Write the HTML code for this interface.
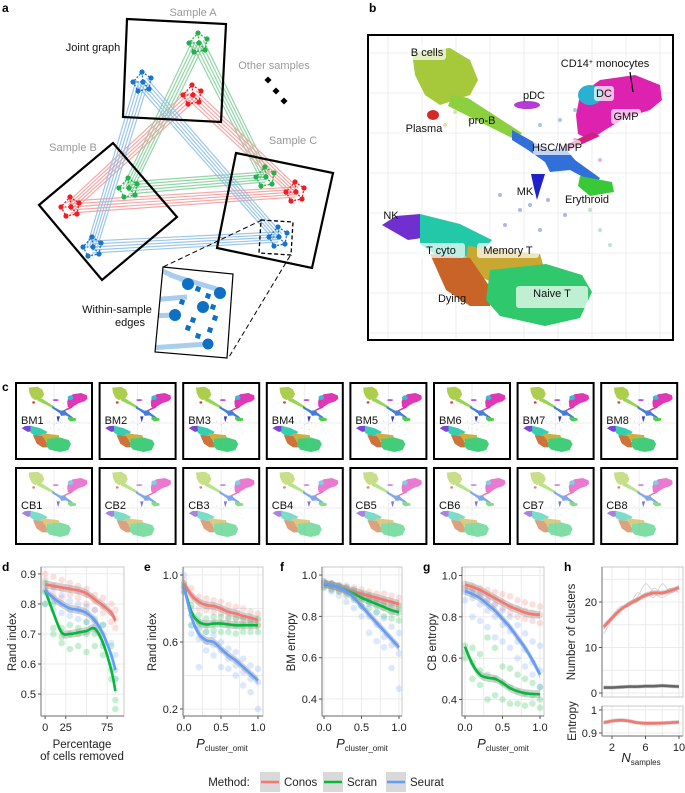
<!DOCTYPE html>
<html><head><meta charset="utf-8">
<style>
html,body{margin:0;padding:0;background:#fff;}
svg{display:block;font-family:"Liberation Sans",Arial,sans-serif;}
</style></head>
<body>
<svg id="fig" width="685" height="793" viewBox="0 0 685 793" xmlns="http://www.w3.org/2000/svg">
<defs>
<g id="umap">
  <g opacity="0.55" fill="none">
    <circle cx="470" cy="120" r="2" fill="#b5d46a"/><circle cx="455" cy="112" r="2" fill="#b5d46a"/><circle cx="445" cy="125" r="2" fill="#b5d46a"/>
    <circle cx="560" cy="120" r="2" fill="#5aa0d8"/><circle cx="575" cy="110" r="2" fill="#5aa0d8"/><circle cx="548" cy="200" r="2" fill="#6080e0"/>
    <circle cx="520" cy="210" r="2" fill="#6080e0"/><circle cx="505" cy="225" r="2" fill="#6080e0"/><circle cx="540" cy="230" r="2" fill="#6080e0"/>
    <circle cx="565" cy="215" r="2" fill="#6080e0"/><circle cx="590" cy="210" r="2" fill="#7ad89a"/><circle cx="600" cy="230" r="2" fill="#7ad89a"/>
    <circle cx="500" cy="195" r="2" fill="#6080e0"/><circle cx="530" cy="205" r="2" fill="#6080e0"/><circle cx="610" cy="245" r="2" fill="#7ad89a"/>
    <circle cx="575" cy="140" r="2" fill="#e070c0"/><circle cx="540" cy="125" r="2" fill="#5aa0d8"/><circle cx="600" cy="160" r="2" fill="#e070c0"/>
  </g>
  <polygon points="412,52 450,48 470,60 478,80 470,95 455,100 440,105 425,95 415,75" fill="#a5c93a"/>
  <polygon points="452,95 468,98 522,133 516,140 448,106" fill="#8cd040"/>
  <ellipse cx="433" cy="115" rx="6" ry="5" fill="#d62828"/>
  <ellipse cx="527" cy="105" rx="13" ry="4" fill="#b63ad6"/>
  <polygon points="580,95 600,80 635,75 660,85 662,100 650,110 625,118 605,130 590,140 578,134 576,115" fill="#dd22b0"/>
  <polygon points="592,132 600,136 565,152 560,148" fill="#d02080"/>
  <ellipse cx="590" cy="95" rx="12" ry="10" fill="#2ab0d0"/>
  <polygon points="512,130 530,140 548,150 565,148 575,160 600,178 596,184 570,170 550,172 545,162 528,150 512,140" fill="#3070d8"/>
  <polygon points="580,176 612,182 614,192 590,196 578,186" fill="#38c838"/>
  <polygon points="531,174 545,174 540,190 537,200 534,188" fill="#2020c8"/>
  <polygon points="382,225 396,216 420,214 422,238 408,240" fill="#7030d0"/>
  <polygon points="420,214 460,224 492,240 478,256 440,258 420,244" fill="#22c8a8"/>
  <polygon points="468,246 540,254 546,275 492,282 464,270" fill="#c8a830"/>
  <polygon points="430,254 470,258 492,290 490,306 470,306 446,290" fill="#c86428"/>
  <polygon points="490,270 546,264 582,275 592,292 580,318 545,326 500,316 486,300" fill="#2fc86c"/>
</g>
</defs>
</svg>
<script>
// ---------------- chart data ----------------
const dCurveX=[0,10,20,30,40,50,60,70,80,85];
const dConos=[0.865,0.86,0.855,0.85,0.845,0.835,0.815,0.795,0.77,0.745];
const dScran=[0.845,0.77,0.705,0.70,0.705,0.71,0.718,0.67,0.58,0.51];
const dSeurat=[0.845,0.82,0.80,0.785,0.78,0.77,0.745,0.70,0.63,0.58];
const dConosPts=[[0.90,0.88,0.85],[0.89,0.86,0.83],[0.88,0.85,0.82],[0.87,0.85,0.83],[0.86,0.84,0.82],[0.85,0.83,0.80],[0.83,0.81,0.78],[0.82,0.79,0.77],[0.80,0.77,0.74],[0.78,0.75,0.72]];
const dScranPts=[[0.87,0.84,0.80],[0.80,0.72,0.70],[0.72,0.69,0.67],[0.73,0.70,0.65],[0.72,0.70,0.66],[0.74,0.70,0.64],[0.75,0.70,0.66],[0.73,0.66,0.63],[0.66,0.58,0.55],[0.55,0.48,0.45]];
const dSeuratPts=[[0.86,0.84,0.80],[0.85,0.81,0.78],[0.83,0.80,0.77],[0.81,0.78,0.76],[0.80,0.78,0.75],[0.79,0.77,0.74],[0.78,0.74,0.72],[0.73,0.70,0.67],[0.67,0.63,0.60],[0.63,0.58,0.55]];
const dXTicks=[0,25,75];
const dYTicks=[0.5,0.6,0.7,0.8,0.9];

const pX=[0,0.1,0.2,0.3,0.4,0.5,0.6,0.7,0.8,0.9,1.0];
const eConos=[0.95,0.88,0.84,0.82,0.815,0.80,0.78,0.77,0.755,0.745,0.73];
const eScran=[0.93,0.78,0.72,0.705,0.71,0.71,0.705,0.70,0.70,0.70,0.70];
const eSeurat=[0.93,0.75,0.65,0.61,0.60,0.56,0.52,0.49,0.45,0.41,0.37];
const eConosPts=[[0.97,0.95,0.93],[0.92,0.88,0.85],[0.87,0.84,0.80],[0.86,0.82,0.79],[0.85,0.81,0.78],[0.84,0.80,0.77],[0.82,0.78,0.75],[0.81,0.77,0.74],[0.80,0.75,0.72],[0.78,0.74,0.71],[0.77,0.73,0.70]];
const eScranPts=[[0.95,0.93,0.90],[0.82,0.76,0.70],[0.76,0.72,0.68],[0.74,0.70,0.66],[0.75,0.71,0.67],[0.75,0.71,0.66],[0.74,0.70,0.66],[0.74,0.70,0.65],[0.74,0.70,0.66],[0.73,0.70,0.66],[0.74,0.70,0.66]];
const eSeuratPts=[[1.0,0.93,0.90],[0.80,0.70,0.65],[0.70,0.62,0.45],[0.66,0.60,0.55],[0.64,0.58,0.52],[0.60,0.55,0.45],[0.56,0.50,0.44],[0.54,0.46,0.40],[0.50,0.42,0.34],[0.46,0.38,0.30],[0.44,0.36,0.20]];
const eYTicks=[0.2,0.6,1.0];

const fConos=[0.96,0.95,0.94,0.93,0.92,0.91,0.90,0.89,0.88,0.87,0.86];
const fScran=[0.955,0.95,0.94,0.925,0.91,0.89,0.875,0.86,0.845,0.83,0.82];
const fSeurat=[0.96,0.95,0.94,0.92,0.89,0.85,0.81,0.77,0.73,0.69,0.65];
const fConosPts=[[0.97,0.96,0.95],[0.96,0.95,0.93],[0.95,0.94,0.92],[0.95,0.93,0.91],[0.94,0.92,0.90],[0.93,0.91,0.89],[0.92,0.90,0.88],[0.91,0.89,0.87],[0.91,0.88,0.86],[0.90,0.87,0.85],[0.89,0.86,0.84]];
const fScranPts=[[0.96,0.95,0.94],[0.96,0.94,0.93],[0.95,0.93,0.92],[0.94,0.92,0.90],[0.93,0.91,0.88],[0.91,0.88,0.85],[0.90,0.87,0.84],[0.88,0.85,0.82],[0.87,0.84,0.80],[0.86,0.82,0.79],[0.85,0.82,0.78]];
const fSeuratPts=[[0.97,0.96,0.94],[0.96,0.95,0.92],[0.95,0.93,0.90],[0.94,0.92,0.87],[0.92,0.89,0.84],[0.90,0.85,0.80],[0.86,0.80,0.72],[0.82,0.76,0.68],[0.79,0.70,0.65],[0.75,0.66,0.55],[0.72,0.62,0.45]];
const entYTicks=[0.4,0.6,0.8,1.0];

const gConos=[0.955,0.945,0.93,0.91,0.89,0.87,0.85,0.835,0.82,0.812,0.81];
const gScran=[0.655,0.57,0.52,0.505,0.50,0.48,0.455,0.44,0.43,0.427,0.425];
const gSeurat=[0.925,0.91,0.89,0.86,0.83,0.79,0.75,0.70,0.65,0.59,0.52];
const gConosPts=[[0.96,0.95,0.93],[0.95,0.94,0.91],[0.94,0.93,0.90],[0.93,0.91,0.88],[0.92,0.89,0.86],[0.91,0.87,0.84],[0.90,0.85,0.82],[0.88,0.84,0.80],[0.87,0.83,0.79],[0.86,0.82,0.78],[0.85,0.81,0.77]];
const gScranPts=[[0.66,0.63,0.60],[0.65,0.58,0.50],[0.62,0.54,0.47],[0.70,0.52,0.40],[0.65,0.50,0.42],[0.56,0.48,0.40],[0.55,0.46,0.38],[0.52,0.44,0.38],[0.50,0.43,0.37],[0.48,0.42,0.38],[0.46,0.40,0.36]];
const gSeuratPts=[[0.94,0.92,0.88],[0.93,0.89,0.80],[0.91,0.86,0.78],[0.88,0.83,0.75],[0.86,0.80,0.70],[0.83,0.76,0.68],[0.80,0.73,0.65],[0.76,0.68,0.60],[0.72,0.64,0.56],[0.68,0.58,0.52],[0.66,0.54,0.46]];
const pXTicks=[0.0,0.5,1.0];

const hX=[1,2,3,4,5,6,7,8,9,10];
const hConos=[14.5,16.5,18.3,19.5,20.5,21.5,22,22,22.5,23.2];
const hGray=[1.2,1.2,1.3,1.4,1.4,1.5,1.5,1.6,1.5,1.4];
const hTrace1=[14,16,18,20,21,24,22,21,22,23];
const hTrace2=[15,17,19,19,22,21,23,22,23,22];
const hTrace3=[13,16,18,20,20,22,21,24,22,23];
const hEntropy=[0.945,0.952,0.955,0.952,0.945,0.942,0.942,0.943,0.945,0.947];
const hYTicks=[0,10,20];
const hEntTicks=[0.9,1];
const hXTicks=[2,6,10];

const methodNames=['Conos','Scran','Seurat'];
const methodColors=['#F8766D','#00BA38','#619CFF'];

// ---------------- helpers ----------------
const NS='http://www.w3.org/2000/svg';
const svg=document.getElementById('fig');
function el(tag,attrs,parent){const e=document.createElementNS(NS,tag);for(const k in attrs)e.setAttribute(k,attrs[k]);(parent||svg).appendChild(e);return e;}
function txt(s,x,y,size,anchor,parent,fill,weight){const t=el('text',{x:x,y:y,'font-size':size,'text-anchor':anchor||'start',fill:fill||'#222'},parent);if(weight)t.setAttribute('font-weight',weight);t.textContent=s;return t;}
function smoothPath(pts){let d='M'+pts[0][0]+','+pts[0][1];for(let i=0;i<pts.length-1;i++){const p0=pts[i-1]||pts[i],p1=pts[i],p2=pts[i+1],p3=pts[i+2]||p2;const c1=[p1[0]+(p2[0]-p0[0])/6,p1[1]+(p2[1]-p0[1])/6],c2=[p2[0]-(p3[0]-p1[0])/6,p2[1]-(p3[1]-p1[1])/6];d+=' C'+c1[0]+','+c1[1]+' '+c2[0]+','+c2[1]+' '+p2[0]+','+p2[1];}return d;}

// ---------------- panel a (diagram) ----------------
const ga=el('g',{});


txt('a',2,12,12,'start',ga,'#000','bold');
const clusters={A:{g:[198,43],r:[192,95],b:[142,82]},B:{g:[128,188],r:[70,207],b:[92,247]},C:{g:[265,177],r:[295,192],b:[278,237]}};
const cols={g:'#22b14c',r:'#ee1c24',b:'#1a75c8'};
const lineCols={g:'#7fcf98',r:'#f59a9a',b:'#8dbde6'};
const pairs=[['A','B'],['A','C'],['B','C']];
const edges=el('g',{},ga);


['g','r','b'].forEach(c=>{pairs.forEach(p=>{const a=clusters[p[0]][c],b=clusters[p[1]][c];const dx=b[0]-a[0],dy=b[1]-a[1],L=Math.hypot(dx,dy),nx=-dy/L,ny=dx/L;for(let k=-2;k<=2;k++){el('line',{x1:a[0]+nx*k*3,y1:a[1]+ny*k*3,x2:b[0]+nx*k*2.5,y2:b[1]+ny*k*2.5,stroke:lineCols[c],'stroke-width':1.2,opacity:0.85},edges);}});});
const offs=[[0,-10],[9,-4],[7,7],[-4,9],[-9,0],[1,0]];
function cluster(cx,cy,c,name){const g=el('g',{},ga);
 const pts=offs.map(o=>[cx+o[0],cy+o[1]]);
 el('polygon',{points:pts.slice(0,5).map(p=>p.join(',')).join(' '),fill:'none',stroke:cols[c],'stroke-width':1.3,'stroke-dasharray':'2,1.5'},g);
 [0,2,4].forEach(i=>el('line',{x1:pts[i][0],y1:pts[i][1],x2:pts[5][0],y2:pts[5][1],stroke:cols[c],'stroke-width':1.3,'stroke-dasharray':'2,1.5'},g));
 pts.forEach(p=>el('circle',{cx:p[0],cy:p[1],r:2.6,fill:cols[c]},g));}
for(const s in clusters)for(const c in clusters[s])cluster(clusters[s][c][0],clusters[s][c][1],c,'node-cluster-'+s.toLowerCase()+'-'+c);
function box(pts,name,dash,w){const p=el('polygon',{points:pts,fill:'none',stroke:'#000','stroke-width':w||2.2},ga);if(dash)p.setAttribute('stroke-dasharray',dash);}
box('127,19 226,24 221,122 123,117','sample-a-box');
box('39,205 113,143 177,217 102,280','sample-b-box');
box('236,153 333,173 312,268 217,248','sample-c-box');
box('261,220 293,222 291,255 259,253','zoom-box','4,2.5',1.3);
el('line',{x1:262,y1:220,x2:163,y2:267,stroke:'#000','stroke-width':1,'stroke-dasharray':'5,3'},ga);
el('line',{x1:290,y1:256,x2:229,y2:357,stroke:'#000','stroke-width':1,'stroke-dasharray':'5,3'},ga);
// inset
const ins=el('g',{},ga);
const clipP=el('clipPath',{id:'insclip'},ins);el('polygon',{points:'163,267 233,274 227,358 155,352'},clipP);
const insIn=el('g',{'clip-path':'url(#insclip)'},ins);
[[160,270,190,283],[170,275,220,290],[150,300,187,297],[150,316,175,315],[150,348,208,344]].forEach(l=>el('line',{x1:l[0],y1:l[1],x2:l[2],y2:l[3],stroke:'#a9cdec','stroke-width':5},insIn));
[[188,284,6],[220,293,6],[203,307,6],[175,315,6],[208,344,5.5]].forEach(c=>el('circle',{cx:c[0],cy:c[1],r:c[2],fill:'#0f6fc4'},insIn));
[[198,289],[208,296],[182,302],[213,307],[193,320],[188,328],[215,318],[198,336],[210,330]].forEach(p=>el('rect',{x:p[0]-2.5,y:p[1]-2.5,width:5,height:5,fill:'#0f6fc4',transform:'rotate(20 '+p[0]+' '+p[1]+')'},insIn));
el('polygon',{points:'163,267 233,274 227,358 155,352',fill:'none',stroke:'#000','stroke-width':1.2},ins);
txt('Sample A',193,16,11,'middle',ga,'#999');
txt('Sample B',73,151,11,'middle',ga,'#999');
txt('Sample C',293,144,11,'middle',ga,'#999');
txt('Joint graph',93,51,11,'middle',ga,'#111');
txt('Other samples',274,69,11,'middle',ga,'#999');
[[268,80],[276,91],[284,101]].forEach(p=>el('rect',{x:p[0]-2.5,y:p[1]-2.5,width:5,height:5,fill:'#000',transform:'rotate(45 '+p[0]+' '+p[1]+')'},ga));
txt('Within-sample',117,313,11,'middle',ga,'#111');
txt('edges',130,326,11,'middle',ga,'#111');

// ---------------- panel b ----------------
const gb=el('g',{});


txt('b',369,12,12,'start',gb,'#000','bold');
for(let i=0;i<9;i++){el('line',{x1:388+i*34,y1:36,x2:388+i*34,y2:339,stroke:'#ececec','stroke-width':1},gb);}
for(let i=0;i<8;i++){el('line',{x1:369,y1:53+i*40,x2:672,y2:53+i*40,stroke:'#ececec','stroke-width':1},gb);}
el('use',{href:'#umap'},gb);
el('line',{x1:630,y1:72,x2:633,y2:92,stroke:'#000','stroke-width':1.2},gb);
const bl=[['B cells',427,56,38],['DC',604,97,20],['pDC',534,99,0],['GMP',626,120,30],['Plasma',424,132,0],['pro-B',482,124,0],['HSC/MPP',557,151,48],['MK',525,195,0],['Erythroid',587,203,0],['NK',391,219,0],['T cyto',441,254,48],['Memory T',508,254,62],['Dying',452,302,0],['Naive T',552,297,72]];
bl.forEach(l=>{if(l[3]){el('rect',{x:l[1]-l[3]/2,y:l[2]-11,width:l[3],height:(l[0]==='Naive T'?22:15),rx:3,fill:'#fff',opacity:0.7},gb);}const t=txt(l[0],l[1],l[2]+(l[0]==='Naive T'?0:0),11,'middle',gb,'#111');});
const cd=txt('',605,67,11,'middle',gb,'#111');cd.innerHTML='CD14<tspan baseline-shift="super" font-size="7">+</tspan> monocytes';
el('rect',{x:368,y:35,width:305,height:305,fill:'none',stroke:'#000','stroke-width':2},gb);

// ---------------- panel c ----------------
const gc=el('g',{});


txt('c',2,391,12,'start',gc,'#000','bold');
for(let r=0;r<2;r++)for(let i=0;i<8;i++){const bx=16+i*83.6,by=383+r*85,s=0.235;
 const g=el('g',{},gc);
 el('line',{x1:bx+38,y1:by,x2:bx+38,y2:by+76,stroke:'#eee'},g);el('line',{x1:bx,y1:by+40,x2:bx+76,y2:by+40,stroke:'#eee'},g);
 el('use',{href:'#umap',transform:'translate('+(bx-375*s+4)+','+(by-45*s+3)+') scale('+s+')',opacity:r?0.6:0.9},g);
 el('rect',{x:bx,y:by,width:76,height:76,fill:'none',stroke:'#000','stroke-width':2},g);
 txt((r?'CB':'BM')+(i+1),bx+5,by+41,11,'start',g,'#111');}

// ---------------- panels d-h ----------------
function panel(cfg){
 const g=el('g',{});
 const X=v=>cfg.x0+(v-cfg.xd[0])/(cfg.xd[1]-cfg.xd[0])*(cfg.x1-cfg.x0);
 const Y=v=>cfg.y1-(v-cfg.yd[0])/(cfg.yd[1]-cfg.yd[0])*(cfg.y1-cfg.y0);
 el('rect',{x:cfg.x0,y:cfg.y0,width:cfg.x1-cfg.x0,height:cfg.y1-cfg.y0,fill:'#fff'},g);
 (cfg.xgrid||cfg.xticks).forEach(v=>el('line',{x1:X(v),y1:cfg.y0,x2:X(v),y2:cfg.y1,stroke:'#ebebeb','stroke-width':1},g));
 (cfg.ygrid||cfg.yticks).forEach(v=>el('line',{x1:cfg.x0,y1:Y(v),x2:cfg.x1,y2:Y(v),stroke:'#ebebeb','stroke-width':1},g));
 return {g,X,Y};
}
function axes(p,cfg){const g=p.g;
 el('rect',{x:cfg.x0,y:cfg.y0,width:cfg.x1-cfg.x0,height:cfg.y1-cfg.y0,fill:'none',stroke:'#c8c8c8','stroke-width':1},g);
 el('line',{x1:cfg.x0,y1:cfg.y0,x2:cfg.x0,y2:cfg.y1,stroke:'#888','stroke-width':1.2},g);
 if(!cfg.noX)el('line',{x1:cfg.x0,y1:cfg.y1,x2:cfg.x1,y2:cfg.y1,stroke:'#888','stroke-width':1.2},g);
 cfg.yticks.forEach((v,i)=>{el('line',{x1:cfg.x0-3,y1:p.Y(v),x2:cfg.x0,y2:p.Y(v),stroke:'#555'},g);const t=txt(cfg.ylabels?cfg.ylabels[i]:v.toFixed(1),cfg.x0-5,p.Y(v)+4,11,'end',g,'#222');});
 if(!cfg.noX)cfg.xticks.forEach(v=>{el('line',{x1:p.X(v),y1:cfg.y1,x2:p.X(v),y2:cfg.y1+3,stroke:'#555'},g);const t=txt(cfg.xfmt?cfg.xfmt(v):String(v),p.X(v),cfg.y1+15,11,'middle',g,'#222');});
}
function series(p,xs,ys,col,name,band){const pts=xs.map((x,i)=>[p.X(x),p.Y(ys[i])]);
 if(band){const up=pts.map(q=>[q[0],q[1]-band]),dn=pts.map(q=>[q[0],q[1]+band]).reverse();
  const r=el('path',{d:smoothPath(up)+' L'+dn[0][0]+','+dn[0][1]+smoothPath(dn).slice(smoothPath(dn).indexOf(' C'))+' Z',fill:'#999',opacity:0.45},p.g);
  }
 const l=el('path',{d:smoothPath(pts),fill:'none',stroke:col,'stroke-width':2.6},p.g);
 
 return l;}
function points(p,xs,cols,col,name){const g=el('g',{opacity:0.22},p.g);
 xs.forEach((x,i)=>cols[i].forEach(v=>el('circle',{cx:p.X(x),cy:p.Y(v),r:3.3,fill:col},g)));}

function linePanel(cfg,xs,curves,ptSets,ptX){const p=panel(cfg);
 ptSets.forEach((s,i)=>points(p,ptX,s,methodColors[i],cfg.name+'-'+methodNames[i].toLowerCase()));
 curves.forEach((c,i)=>series(p,xs,c,methodColors[i],cfg.name+'-'+methodNames[i].toLowerCase(),4));
 axes(p,cfg);return p;}

const pfmt=v=>v.toFixed(1);
const pd=linePanel({name:'panel-d',x0:41,x1:124,y0:567,y1:716,xd:[-5,95.4],yd:[0.427,0.923],xticks:dXTicks,xgrid:[0,25,50,75],yticks:dYTicks},dCurveX,[dConos,dScran,dSeurat],[dConosPts,dScranPts,dSeuratPts],dCurveX);
const pe=linePanel({name:'panel-e',x0:183,x1:263,y0:567,y1:716,xd:[-0.0135,1.068],yd:[0.158,1.048],xticks:pXTicks,xgrid:[0,0.25,0.5,0.75,1],yticks:eYTicks,ygrid:[0.2,0.4,0.6,0.8,1.0],xfmt:pfmt},pX,[eConos,eScran,eSeurat],[eConosPts,eScranPts,eSeuratPts],pX);
const pf=linePanel({name:'panel-f',x0:322,x1:402,y0:567,y1:716,xd:[-0.027,1.04],yd:[0.318,1.039],xticks:pXTicks,xgrid:[0,0.25,0.5,0.75,1],yticks:entYTicks,xfmt:pfmt},pX,[fConos,fScran,fSeurat],[fConosPts,fScranPts,fSeuratPts],pX);
const pg=linePanel({name:'panel-g',x0:462,x1:544,y0:567,y1:716,xd:[-0.04,1.053],yd:[0.32,1.041],xticks:pXTicks,xgrid:[0,0.25,0.5,0.75,1],yticks:entYTicks,xfmt:pfmt},pX,[gConos,gScran,gSeurat],[gConosPts,gScranPts,gSeuratPts],pX);

// panel h
const hcfg={name:'panel-h-clusters',x0:602,x1:683,y0:567,y1:697,xd:[0.806,10.48],yd:[-0.88,27.7],xticks:hXTicks,xgrid:[2,4,6,8,10],yticks:hYTicks,ygrid:[0,5,10,15,20,25],noX:true,ylabels:hYTicks.map(String)};
const ph=panel(hcfg);
[hTrace1,hTrace2,hTrace3].forEach((t,i)=>{const l=el('path',{d:smoothPath(hX.map((x,j)=>[ph.X(x),ph.Y(t[j])])),fill:'none',stroke:'#d8d8d8','stroke-width':1},ph.g);});
series(ph,hX,hGray,'#666','panel-h-gray',2);
series(ph,hX,hConos,methodColors[0],'panel-h-conos',2.5);
axes(ph,hcfg);
const hecfg={name:'panel-h-entropy',x0:602,x1:683,y0:706,y1:736,xd:[0.806,10.48],yd:[0.887,1.017],xticks:hXTicks,xgrid:[2,4,6,8,10],yticks:hEntTicks,ylabels:['0.9','1']};
const phe=panel(hecfg);
series(phe,hX,hEntropy,methodColors[0],'panel-h-entropy',2);
axes(phe,hecfg);

// panel letters & axis titles
const gt=el('g',{});


[['d',2,571],['e',144,571],['f',280,571],['g',423,571],['h',564,571]].forEach(l=>txt(l[0],l[1],l[2],12,'start',gt,'#000','bold'));
function ytitle(s,x,y){const t=txt(s,x,y,11.5,'middle',gt,'#222');t.setAttribute('transform','rotate(-90 '+x+' '+y+')');}
ytitle('Rand index',16,642);ytitle('Rand index',156,642);ytitle('BM entropy',295,642);ytitle('CB entropy',436,642);
ytitle('Number of clusters',575,632);ytitle('Entropy',576,721);
txt('Percentage',82,748,11.5,'middle',gt,'#222');txt('of cells removed',82,760,11.5,'middle',gt,'#222');
[222,362,503].forEach(cx=>{const t=txt('',cx,748,12,'middle',gt,'#222');t.innerHTML='<tspan font-style="italic" font-size="13">P</tspan><tspan font-size="8" dy="3">cluster_omit</tspan>';});
{const t=txt('',641,762,12,'middle',gt,'#222');t.innerHTML='<tspan font-style="italic" font-size="13">N</tspan><tspan font-size="8" dy="3">samples</tspan>';}

// legend
const lg=el('g',{});


txt('Method:',229,786,11.5,'middle',lg,'#222');
const lx=[260,323,386];
methodNames.forEach((m,i)=>{const e=el('g',{},lg);
 el('rect',{x:lx[i],y:772,width:20,height:20,fill:'#d9d9d9'},e);
 el('line',{x1:lx[i]+1,y1:782,x2:lx[i]+19,y2:782,stroke:methodColors[i],'stroke-width':2.5},e);
 txt(m,lx[i]+24,786,11.5,'start',e,'#222');});
</script>
</body></html>
